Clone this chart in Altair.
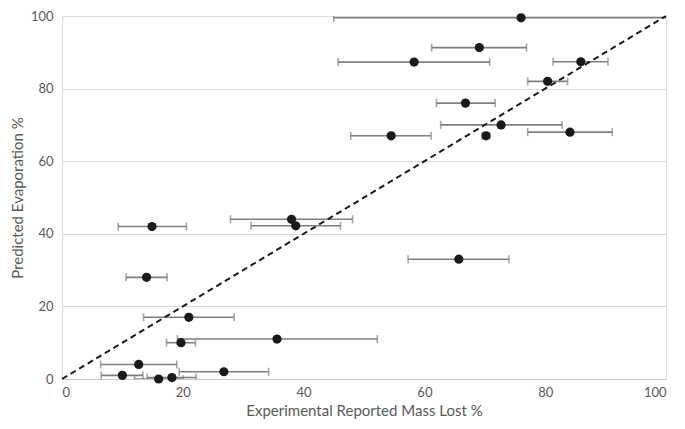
import altair as alt
import pandas as pd

# Data
exp_x = [76.0, 69.1, 58.3, 85.9, 80.4, 66.8, 72.7, 54.5, 70.2, 84.1, 38.0, 38.7,
         14.9, 14.0, 21.0, 35.6, 19.7, 12.7, 26.8, 10.0, 16.0, 18.2, 65.7]
pred_y = [99.5, 91.3, 87.3, 87.4, 82.0, 76.0, 70.0, 67.0, 67.0, 68.0, 44.0, 42.2,
          42.0, 28.0, 17.0, 11.0, 10.0, 4.0, 2.0, 1.0, 0.0, 0.4, 33.0]
err_lo = [45.0, 61.2, 45.7, 81.3, 77.1, 62.0, 62.7, 47.8, 69.6, 77.1, 27.9, 31.3,
          9.3, 10.6, 13.5, 19.1, 17.3, 6.4, 19.4, 6.5, 12.0, 14.1, 57.3]
err_hi = [107.0, 76.9, 70.8, 90.4, 83.7, 71.7, 82.8, 61.1, 70.8, 91.1, 48.1, 46.1,
          20.6, 17.4, 28.5, 52.2, 22.1, 19.0, 34.2, 13.4, 20.1, 22.2, 74.0]
diag_x = [0, 100]
diag_y = [0, 100]
ticks = [0, 20, 40, 60, 80, 100]

df = pd.DataFrame({"x": exp_x, "y": pred_y, "lo": err_lo, "hi": err_hi})
caps = pd.DataFrame({"x": err_lo + err_hi, "y": pred_y + pred_y})
diag = pd.DataFrame({"x": diag_x, "y": diag_y})

FONT = "Lato"
xscale = alt.Scale(domain=[0, 100], nice=False, zero=False)
yscale = alt.Scale(domain=[0, 100], nice=False, zero=False)

xaxis = alt.Axis(title="Experimental Reported Mass Lost %", values=ticks,
                 grid=False, ticks=False, domain=True, domainColor="#c8c8c8",
                 domainWidth=1.2, labelPadding=7, titlePadding=4,
                 labelColor="#595959", titleColor="#595959",
                 labelFontSize=13, titleFontSize=15, labelFont=FONT,
                 titleFont=FONT, titleFontWeight="normal")
yaxis = alt.Axis(title="Predicted Evaporation %", values=ticks,
                 grid=True, gridColor="#d9d9d9", gridWidth=1.2,
                 ticks=False, domain=True, domainColor="#d9d9d9",
                 labelPadding=9, titlePadding=5,
                 labelColor="#595959", titleColor="#595959",
                 labelFontSize=13, titleFontSize=15, labelFont=FONT,
                 titleFont=FONT, titleFontWeight="normal")

bars = alt.Chart(df).mark_rule(color="#7f7f7f", strokeWidth=1.6, clip=True).encode(
    x=alt.X("lo:Q", scale=xscale, axis=xaxis),
    x2="hi:Q",
    y=alt.Y("y:Q", scale=yscale, axis=yaxis),
)

cap_marks = alt.Chart(caps).mark_tick(color="#7f7f7f", thickness=1.6, size=8,
                                      orient="vertical", clip=True).encode(
    x=alt.X("x:Q", scale=xscale), y=alt.Y("y:Q", scale=yscale)
)

line = alt.Chart(diag).mark_line(color="#1a1a1a", strokeWidth=2,
                                 strokeDash=[6, 4]).encode(
    x=alt.X("x:Q", scale=xscale), y=alt.Y("y:Q", scale=yscale)
)

pts = alt.Chart(df).mark_circle(color="#1a1a1a", opacity=1, size=85).encode(
    x=alt.X("x:Q", scale=xscale), y=alt.Y("y:Q", scale=yscale)
)

chart = alt.layer(bars, cap_marks, line, pts).properties(
    width=604, height=363,
    autosize=alt.AutoSizeParams(type="none"),
    padding={"left": 54, "top": 8, "right": 11, "bottom": 42},
).configure_view(stroke=None).configure(background="white")

chart.save("out.html", embed_options={"renderer": "svg", "actions": False})
